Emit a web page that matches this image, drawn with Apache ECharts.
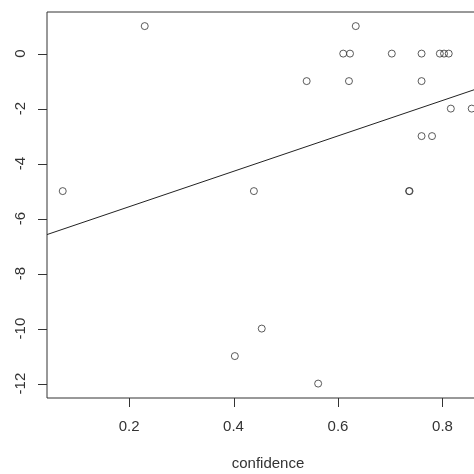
<!DOCTYPE html>
<html><head><meta charset="utf-8">
<script src="https://cdn.jsdelivr.net/npm/echarts@6/dist/echarts.min.js"></script>
<style>html,body{margin:0;padding:0;background:#fff}#c{width:474px;height:474px}</style>
</head><body><div id="c"></div>
<script>
// data
const confidence = [0.073, 0.230, 0.540, 0.610, 0.623, 0.621, 0.634, 0.703, 0.760, 0.760, 0.760, 0.780, 0.795, 0.803, 0.812, 0.816, 0.856, 0.439, 0.736, 0.737, 0.4025, 0.454, 0.562];
const score      = [-5,    1,     -1,    0,     0,     -1,    1,     0,     0,     -1,    -3,    -3,    0,     0,     0,     -2,    -2,    -5,    -5,    -5,    -11,    -10,   -12];
const xTicks = [0.2, 0.4, 0.6, 0.8];
const yTicks = [-12, -10, -8, -6, -4, -2, 0];
const fitIntercept = -6.857;
const fitSlope = 6.44;
const xRange = [0.0429, 0.8642];
const yRange = [-12.524, 1.513];

const points = confidence.map((x, i) => [x, score[i]]);
const fitLine = xRange.map(x => [x, fitIntercept + fitSlope * x]);

const chart = echarts.init(document.getElementById('c'), null, {renderer: 'canvas'});
const ink = '#333';
const font = '"Liberation Sans", Arial, sans-serif';
const TICK = 9;
chart.setOption({
  animation: false,
  backgroundColor: '#fff',
  grid: {left: 47, right: -2, top: 12, bottom: 76, show: true, borderColor: ink, borderWidth: 1,
         backgroundColor: 'transparent', containLabel: false, outerBoundsMode: 'none'},
  xAxis: {
    type: 'value', min: xRange[0], max: xRange[1], position: 'bottom',
    name: 'confidence', nameLocation: 'middle', nameGap: 58,
    nameTextStyle: {fontFamily: font, fontSize: 15, color: ink, padding: [0, 0, 0, 13]},
    axisLine: {show: false, onZero: false},
    splitLine: {show: false},
    axisTick: {show: false},
    axisLabel: {fontFamily: font, fontSize: 15, color: ink, margin: 21, customValues: xTicks,
      formatter: v => v.toFixed(1)}
  },
  yAxis: {
    type: 'value', min: yRange[0], max: yRange[1], position: 'left',
    axisLine: {show: false, onZero: false},
    splitLine: {show: false},
    axisTick: {show: false},
    axisLabel: {fontFamily: font, fontSize: 15, color: ink, margin: 19, rotate: 90, customValues: yTicks,
      formatter: v => String(v)}
  },
  series: [
    {type: 'scatter', data: points, symbol: 'circle', symbolSize: 7,
     itemStyle: {color: 'transparent', borderColor: ink, borderWidth: 1}, z: 3},
    {type: 'line', data: fitLine, showSymbol: false, symbol: 'none', clip: true,
     lineStyle: {color: '#222', width: 1}, z: 2}
  ]
});

// tick marks placed through the chart's own scales
const tickGraphics = [];
xTicks.forEach(v => {
  const p = chart.convertToPixel({seriesIndex: 0}, [v, yRange[0]]);
  const x = Math.round(p[0]) + 0.5;
  tickGraphics.push({type: 'line', silent: true, z: 100,
    shape: {x1: x, y1: p[1], x2: x, y2: p[1] + TICK}, style: {stroke: ink, lineWidth: 1}});
});
yTicks.forEach(v => {
  const p = chart.convertToPixel({seriesIndex: 0}, [xRange[0], v]);
  const y = Math.round(p[1]) + 0.5;
  tickGraphics.push({type: 'line', silent: true, z: 100,
    shape: {x1: p[0] - TICK, y1: y, x2: p[0], y2: y}, style: {stroke: ink, lineWidth: 1}});
});
chart.setOption({graphic: {elements: tickGraphics}});
</script></body></html>
